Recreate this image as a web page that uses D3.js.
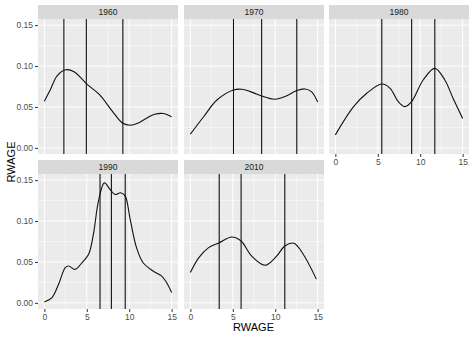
<!DOCTYPE html>
<html lang="en">
<head>
<meta charset="utf-8">
<title>RWAGE density by year</title>
<script src="https://cdn.jsdelivr.net/npm/d3@7"></script>
<style>
  body { margin: 0; background: #fff; font-family: 'Liberation Sans', Arial, sans-serif; }
</style>
</head>
<body>
<div id="chart"></div>
<script>

/* Data */
/* ==== */

var years = ['1960', '1970', '1980', '1990', '2010'];

// density estimate of RWAGE per year, [wage, density]
var density1960 = [[0,0.057],[0.7,0.071],[1.5,0.088],[2.5,0.0955],[3.5,0.093],[5,0.078],[6.5,0.065],[8,0.045],[9.25,0.030],[10.1,0.0277],[11,0.030],[12,0.036],[13,0.041],[14,0.042],[15,0.038]];
var density1970 = [[0,0.0167],[1.56,0.038],[3.13,0.0585],[5.08,0.0707],[6.05,0.0716],[7.4,0.0675],[8.4,0.0634],[9.96,0.0594],[11.3,0.0634],[12.54,0.070],[13.5,0.072],[14.27,0.0687],[15,0.056]];
var density1980 = [[0,0.0159],[2.15,0.0504],[3.7,0.0667],[5.47,0.078],[6.45,0.0728],[7.42,0.0565],[8.2,0.0504],[8.99,0.0565],[10.35,0.083],[11.72,0.0972],[12.9,0.083],[13.87,0.0606],[15,0.036]];
var density1990 = [[0,0.001],[0.9,0.0065],[1.68,0.0228],[2.46,0.043],[2.85,0.045],[3.63,0.041],[4.42,0.049],[5.2,0.059],[5.78,0.0838],[6.37,0.124],[7.07,0.1467],[7.74,0.1386],[8.32,0.1325],[8.99,0.1345],[9.53,0.1305],[10.08,0.104],[10.86,0.0675],[11.64,0.049],[12.8,0.039],[13.8,0.033],[14.4,0.0248],[15,0.0126]];
var density2010 = [[0,0.037],[0.98,0.055],[2.15,0.0675],[3.4,0.0735],[4.88,0.0805],[5.98,0.0756],[7.23,0.057],[8.8,0.046],[10.16,0.057],[11.13,0.0695],[12.2,0.0728],[13.3,0.0594],[14.85,0.029]];
var densities = [density1960, density1970, density1980, density1990, density2010];

// quartile markers per year
var quartiles = [
  [2.3, 4.95, 9.25],
  [5.08, 8.4, 12.54],
  [5.47, 8.99, 11.72],
  [6.56, 7.9, 9.53],
  [3.4, 5.98, 11.13]
];

var xTicks = [0, 5, 10, 15];
var yTicks = [0, 0.05, 0.10, 0.15];
var xMinor = [2.5, 7.5, 12.5];
var yMinor = [0.025, 0.075, 0.125];


/* Layout */
/* ====== */

var width = 474,
    height = 338,
    colLeft = [38, 184, 329],
    rowTop = [5, 160],
    panelW = 140,
    stripH = 14,
    panelH = 135;

var svg = d3.select('#chart').append('svg')
  .attr('width', width)
  .attr('height', height);

var x = d3.scaleLinear().domain([-0.75, 15.75]).range([0, panelW]);
var y = d3.scaleLinear().domain([-0.0075, 0.1575]).range([panelH, 0]);

var line = d3.line()
  .x(function(d) { return x(d[0]); })
  .y(function(d) { return y(d[1]); })
  .curve(d3.curveCatmullRom.alpha(0.5));


/* Panels */
/* ====== */

years.forEach(function(year, i) {

  var col = i % 3, row = Math.floor(i / 3);
  var g = svg.append('g')
    .attr('transform', 'translate(' + colLeft[col] + ',' + rowTop[row] + ')');

  // strip
  g.append('rect')
    .attr('width', panelW).attr('height', stripH)
    .attr('fill', '#d9d9d9');
  g.append('text')
    .attr('x', panelW / 2).attr('y', stripH / 2 + 3)
    .attr('text-anchor', 'middle')
    .attr('font-size', 8.5)
    .attr('fill', '#1a1a1a')
    .text(year);

  var p = g.append('g').attr('transform', 'translate(0,' + stripH + ')');

  p.append('rect')
    .attr('width', panelW).attr('height', panelH)
    .attr('fill', '#ebebeb');

  // grid
  p.selectAll('.xminor').data(xMinor).enter().append('line')
    .attr('x1', x).attr('x2', x).attr('y1', 0).attr('y2', panelH)
    .attr('stroke', '#fff').attr('stroke-width', 0.5);
  p.selectAll('.yminor').data(yMinor).enter().append('line')
    .attr('y1', y).attr('y2', y).attr('x1', 0).attr('x2', panelW)
    .attr('stroke', '#fff').attr('stroke-width', 0.5);
  p.selectAll('.xmajor').data(xTicks).enter().append('line')
    .attr('x1', x).attr('x2', x).attr('y1', 0).attr('y2', panelH)
    .attr('stroke', '#fff').attr('stroke-width', 1);
  p.selectAll('.ymajor').data(yTicks).enter().append('line')
    .attr('y1', y).attr('y2', y).attr('x1', 0).attr('x2', panelW)
    .attr('stroke', '#fff').attr('stroke-width', 1);

  // density curve
  p.append('path')
    .datum(densities[i])
    .attr('d', line)
    .attr('fill', 'none')
    .attr('stroke', '#111')
    .attr('stroke-width', 1.1);

  // quartile lines
  p.selectAll('.q').data(quartiles[i]).enter().append('line')
    .attr('x1', x).attr('x2', x).attr('y1', 0).attr('y2', panelH)
    .attr('stroke', '#111').attr('stroke-width', 1.1);

  // y axis on first column
  if (col === 0) {
    var ya = p.append('g')
      .call(d3.axisLeft(y).tickValues(yTicks).tickFormat(d3.format('.2f')).tickSize(3).tickPadding(2));
    ya.select('.domain').remove();
    ya.selectAll('line').attr('stroke', '#333');
    ya.selectAll('text').attr('fill', '#4d4d4d').attr('font-size', 8.5)
      .attr('font-family', "'Liberation Sans', Arial, sans-serif");
  }

  // x axis on bottom panel of each column
  if (row === 1 || col === 2) {
    var xa = p.append('g')
      .attr('transform', 'translate(0,' + panelH + ')')
      .call(d3.axisBottom(x).tickValues(xTicks).tickSize(3).tickPadding(2));
    xa.select('.domain').remove();
    xa.selectAll('line').attr('stroke', '#333');
    xa.selectAll('text').attr('fill', '#4d4d4d').attr('font-size', 8.5)
      .attr('font-family', "'Liberation Sans', Arial, sans-serif");
  }

});


/* Axis titles */
/* =========== */

svg.append('text')
  .attr('x', (colLeft[0] + colLeft[2] + panelW) / 2)
  .attr('y', 331)
  .attr('text-anchor', 'middle')
  .attr('font-size', 11)
  .attr('fill', '#000')
  .text('RWAGE');

svg.append('text')
  .attr('transform', 'translate(15,162) rotate(-90)')
  .attr('text-anchor', 'middle')
  .attr('font-size', 11)
  .attr('fill', '#000')
  .text('RWAGE');

</script>
</body>
</html>
